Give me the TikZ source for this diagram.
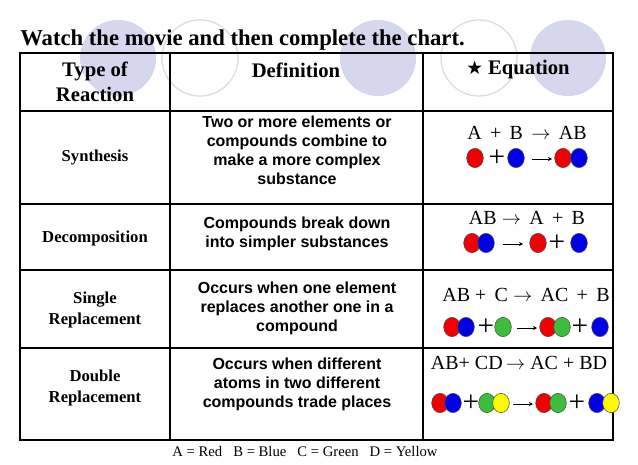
\documentclass[tikz,border=0pt]{standalone}
\usepackage{fontspec}
\setmainfont{Liberation Serif}
\newfontfamily\arial{Liberation Sans}
\newfontfamily\djv{DejaVu Sans}
\usetikzlibrary{arrows.meta,shapes.geometric}
\definecolor{lav}{RGB}{214,214,238}
\definecolor{lavline}{RGB}{220,220,235}
\definecolor{cR}{RGB}{240,0,0}
\definecolor{cB}{RGB}{0,0,230}
\definecolor{cG}{RGB}{60,190,60}
\definecolor{cY}{RGB}{250,250,0}
\tikzset{
  deco/.style={fill=lav,draw=none},
  decoline/.style={draw=lavline,line width=1pt},
  grid/.style={line width=1pt},
  hdr/.style={font=\fontsize{15.5}{18.75}\selectfont\bfseries,align=center},
  rowlab/.style={font=\fontsize{12.5}{15.75}\selectfont\bfseries,align=center},
  defn/.style={font=\arial\fontsize{12}{14.3}\selectfont\bfseries,align=center},
  eqn/.style={font=\fontsize{15}{17}\selectfont},
  ball/.style={draw=black!70,line width=0.4pt,ellipse,minimum width=12.5pt,minimum height=14.5pt,inner sep=0pt},
  rxn/.style={-{Stealth[length=3pt,width=3pt]},line width=0.6pt},
  plus/.style={font=\fontsize{22}{22}\selectfont\fontseries{l},inner sep=0pt}
}
\begin{document}
\begin{tikzpicture}[x=0.75pt,y=-0.75pt]
\useasboundingbox (0,0) rectangle (638,464);
% decorative circles
\fill[deco] (118,58) circle (38);
\draw[decoline] (200,58) circle (38);
\fill[deco] (378,58) circle (38);
\draw[decoline] (479,58) circle (38);
\fill[deco] (568,58) circle (38);
% title
\node[anchor=base west,inner sep=0pt,font=\fontsize{17}{19}\selectfont\bfseries] (title) at (20,45) {Watch the movie and then complete the chart.};
% table
\draw[grid] (20,53) rectangle (613,440);
\foreach \y in {111,204,270,348} \draw[grid] (20,\y) -- (613,\y);
\draw[grid] (170,53) -- (170,440);
\draw[grid] (423,53) -- (423,440);
% headers
\node[hdr] (h1) at (95,82) {Type of\\Reaction};
\node[hdr] (h2) at (296,70) {Definition};
\node[hdr] (h3) at (518,70) {{\djv\fontsize{14}{13}\selectfont ★} Equation};
% row labels
\node[rowlab] (r1) at (95,158) {Synthesis};
\node[rowlab] (r2) at (95,238) {Decomposition};
\node[rowlab] (r3) at (95,310) {Single\\Replacement};
\node[rowlab] (r4) at (95,388) {Double\\Replacement};
% definitions
\node[defn] (d1) at (297,150) {Two or more elements or\\compounds combine to\\make a more complex\\substance};
\node[defn] (d2) at (297,234) {Compounds break down\\into simpler substances};
\node[defn] (d3) at (297,308) {Occurs when one element\\replaces another one in a\\compound};
\node[defn] (d4) at (297,384) {Occurs when different\\atoms in two different\\compounds trade places};
% equations
\node[eqn] (e1) at (527,133) {A \,+\, B \,$\rightarrow$\, AB};
\node[eqn] (e2) at (527,218) {AB $\rightarrow$\, A \,+\, B};
\node[eqn] (e3) at (526,295) {AB + \,C $\rightarrow$\, AC \,+\, B};
\node[eqn,inner sep=0pt] (e4) at (519,363) {AB+ CD\,$\rightarrow$ AC + BD};
% row 1 balls
\node[ball,fill=cR] (a1) at (475,158) {};
\node[plus] (p1) at (497,158) {+};
\node[ball,fill=cB] (b1) at (516,158) {};
\coordinate (s1) at (532,159); \coordinate (t1) at (552,159);
\draw[rxn] (s1) -- (t1);
\node[ball,fill=cR] (a1b) at (563,158) {};
\node[ball,fill=cB] (b1b) at (579,158) {};
% row 2
\node[ball,fill=cR] (a2) at (472,243) {};
\node[ball,fill=cB] (b2) at (486,243) {};
\coordinate (s2) at (503,244); \coordinate (t2) at (523,244);
\draw[rxn] (s2) -- (t2);
\node[ball,fill=cR] (a2b) at (538,243) {};
\node[plus] (p2) at (557,243) {+};
\node[ball,fill=cB] (b2b) at (579,243) {};
% row 3
\node[ball,fill=cR] (a3) at (452,327) {};
\node[ball,fill=cB] (b3) at (466,327) {};
\node[plus] (p3) at (486,327) {+};
\node[ball,fill=cG] (c3) at (503,327) {};
\coordinate (s3) at (517,328); \coordinate (t3) at (537,328);
\draw[rxn] (s3) -- (t3);
\node[ball,fill=cR] (a3b) at (548,327) {};
\node[ball,fill=cG] (c3b) at (562,327) {};
\node[plus] (p3b) at (580,327) {+};
\node[ball,fill=cB] (b3b) at (600,327) {};
% row 4
\node[ball,fill=cR] (a4) at (440,403) {};
\node[ball,fill=cB] (b4) at (453,403) {};
\node[plus] (p4) at (471,403) {+};
\node[ball,fill=cG] (c4) at (487,403) {};
\node[ball,fill=cY] (d4b) at (501,403) {};
\coordinate (s4) at (513,404); \coordinate (t4) at (533,404);
\draw[rxn] (s4) -- (t4);
\node[ball,fill=cR] (a4b) at (544,403) {};
\node[ball,fill=cG] (c4b) at (558,403) {};
\node[plus] (p4b) at (577,403) {+};
\node[ball,fill=cB] (b4c) at (597,403) {};
\node[ball,fill=cY] (d4c) at (611,403) {};
% legend
\node[font=\fontsize{11}{12}\selectfont] (leg) at (305,442) [anchor=north] {A = Red \ \ B = Blue \ \ C = Green \ \ D = Yellow};
\end{tikzpicture}
\end{document}
